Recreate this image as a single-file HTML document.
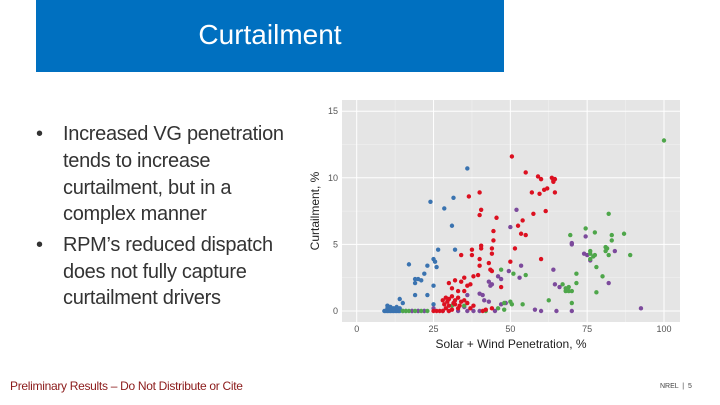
<!DOCTYPE html>
<html><head><meta charset="utf-8"><style>
body{margin:0;width:720px;height:405px;background:#fff;position:relative;overflow:hidden;font-family:"Liberation Sans",sans-serif}
#title{position:absolute;left:36px;top:0;width:468px;height:72px;background:#0070c0;color:#fff;font-size:28px;text-align:center;line-height:70px}
.b{position:absolute;left:36px;font-size:20px;color:#333;letter-spacing:-0.3px}
.b span{position:absolute;left:0}
.t{position:absolute;left:27px;white-space:nowrap}
#foot{position:absolute;left:10px;top:379px;font-size:12px;color:#8b1a1a;letter-spacing:-0.3px}
#nrel{position:absolute;left:660px;top:383px;font-size:7px;color:#444}
</style></head><body>
<div id="title">Curtailment</div>
<div class="b" style="top:123px"><span>•</span><div class="t" style="top:0">Increased VG penetration</div><div class="t" style="top:27px">tends to increase</div><div class="t" style="top:54px">curtailment, but in a</div><div class="t" style="top:80px">complex manner</div></div>
<div class="b" style="top:234px"><span>•</span><div class="t" style="top:0">RPM’s reduced dispatch</div><div class="t" style="top:27px">does not fully capture</div><div class="t" style="top:53px">curtailment drivers</div></div>
<div id="foot">Preliminary Results – Do Not Distribute or Cite</div>
<div id="nrel">NREL &nbsp;|&nbsp; 5</div>
<svg id="chart" width="720" height="405" style="position:absolute;left:0;top:0"></svg>
<script>
const xTicks=[0,25,50,75,100];
const yTicks=[0,5,10,15];
const blueX=[36,24,28.5,31.5,31,32,26.5,25,25.5,26,17,23,22,19,20,21,19,25,19,23,14,15,25,10,11,12,13,14,9,9.5,10,10.5,11,11.5,12,12.5,13,13.5,14,15,16,18,20,22,10,12];
const blueY=[10.7,8.2,7.7,8.5,6.4,4.6,4.6,3.9,3.7,3.3,3.5,3.4,2.8,2.4,2.4,2.3,2.1,1.9,1.2,1.2,0.9,0.6,0.5,0.4,0.3,0.2,0.3,0.2,0,0,0,0,0,0,0,0,0,0,0,0,0,0,0,0,0.2,0.1];
const redX=[50.5,55,59,60,63.5,64,64.5,64,62,61,57,59.5,64.5,36.5,40,40.5,40,61.5,57.5,45.5,54,52.5,53.5,55,44.5,44.5,44,51.5,40.5,40.5,37.5,37.5,34,44,40,50,43,40,43.5,44,60,35,38,39.5,30,32,34,36,37,31,33,35,29,30,31,32,33,34,28.5,30,32,35,36,38,27,28,29,30,31,33,37,41,47,42,44,28,29.5,31.5,33.5,25,26];
const redY=[11.6,10.4,10.1,9.9,10,9.8,9.9,9.7,9.2,9.1,8.9,8.8,8.9,8.6,8.9,7.6,7.2,7.5,7.3,7,6.8,6.4,5.8,5.7,6,5.3,4.7,4.7,4.9,4.7,4.6,4.2,4.2,4.3,3.9,3.7,3.6,3.4,3.1,3,3.9,2.5,2.6,2.7,2.1,2.3,2.2,1.9,2,1.7,1.5,1.5,1,0.9,1.1,0.8,1,0.7,0.5,0.4,0.5,0.8,0.6,0.4,0,0,0.2,0,0.1,0.2,0.2,0,1.8,0.1,0.2,0.8,0.7,0.6,0.4,0,0];
const purpleX=[52,50,49.5,53.5,46,47,43,44,43.5,53,40,41,36,41.5,43,47,48.5,58,60,65,70,92.5,64,66,64.5,70,70,74.5,74,75,76,82,84,20,22,30,33,36,38,18,25,35,28,40,45];
const purpleY=[7.6,6.3,3,3.4,2.6,2.4,2.2,2,1.9,2.5,1.3,1.2,1.2,0.8,0.7,0.5,0.6,0.1,0,0,0,0.2,3.1,1.8,2,5.1,5,5.6,4.3,4.2,3.8,2.1,4.5,0,0,0,0,0,0,0,0.2,0.3,0,0,0];
const greenX=[100,82,74.5,69.5,77.5,83,87,83,76,76,77,77.5,81,81.5,81,82,89,76,78,80,71.5,71.5,67,68,69,68,69,70,78,70,62.5,55,51,47,50,50.5,54,46,48,31,35,15,16,17,19,21,23,42,48];
const greenY=[12.8,7.3,6.2,5.7,5.9,5.7,5.8,5.3,4.5,4.3,4.1,4.2,4.8,4.7,4.5,4.2,4.2,3.9,3.3,2.6,2.8,2.1,2,1.7,1.8,1.5,1.5,1.5,1.4,0.6,0.8,2.7,2.8,3.1,0.7,0.5,0.5,0.2,0.1,0.4,0.4,0,0,0,0,0,0,0,0.6];
const NS='http://www.w3.org/2000/svg';
const svg=document.getElementById('chart');
const L=342,R=680,T=100,B=322;
const xs=v=>356.7+v*3.073, ys=v=>311-v*13.32;
function mk(t,a){const e=document.createElementNS(NS,t);for(const k in a)e.setAttribute(k,a[k]);svg.appendChild(e);return e;}
const p=mk('rect',{x:L,y:T,width:R-L,height:B-T,fill:'#e5e5e5'});


[12.5,37.5,62.5,87.5].forEach(v=>{const l=mk('line',{x1:xs(v),x2:xs(v),y1:T,y2:B,stroke:'#f2f2f2','stroke-width':0.5});});
[2.5,7.5,12.5].forEach(v=>{const l=mk('line',{x1:L,x2:R,y1:ys(v),y2:ys(v),stroke:'#f2f2f2','stroke-width':0.5});});
xTicks.forEach(v=>{const l=mk('line',{x1:xs(v),x2:xs(v),y1:T,y2:B,stroke:'#fff','stroke-width':1});
const t=mk('text',{x:xs(v),y:332,'text-anchor':'middle','font-size':9,fill:'#555'});t.textContent=v;});
yTicks.forEach(v=>{const l=mk('line',{x1:L,x2:R,y1:ys(v),y2:ys(v),stroke:'#fff','stroke-width':1});
const t=mk('text',{x:338,y:ys(v)+3,'text-anchor':'end','font-size':9,fill:'#555'});t.textContent=v;});
const xt=mk('text',{x:511,y:348,'text-anchor':'middle','font-size':12,fill:'#222'});xt.textContent='Solar + Wind Penetration, %';


const yt=mk('text',{x:0,y:0,'text-anchor':'middle','font-size':12,fill:'#222',transform:'translate(319,211) rotate(-90)'});yt.textContent='Curtailment, %';


function series(X,Y,c,name){X.forEach((x,i)=>{const d=mk('circle',{cx:xs(x),cy:ys(Y[i]),r:2.2,fill:c});});}
series(blueX,blueY,'#3a73b0','point-blue');
series(purpleX,purpleY,'#7c4a9c','point-purple');
series(greenX,greenY,'#4ea64a','point-green');
series(redX,redY,'#dc1020','point-red');
</script>
</body></html>
